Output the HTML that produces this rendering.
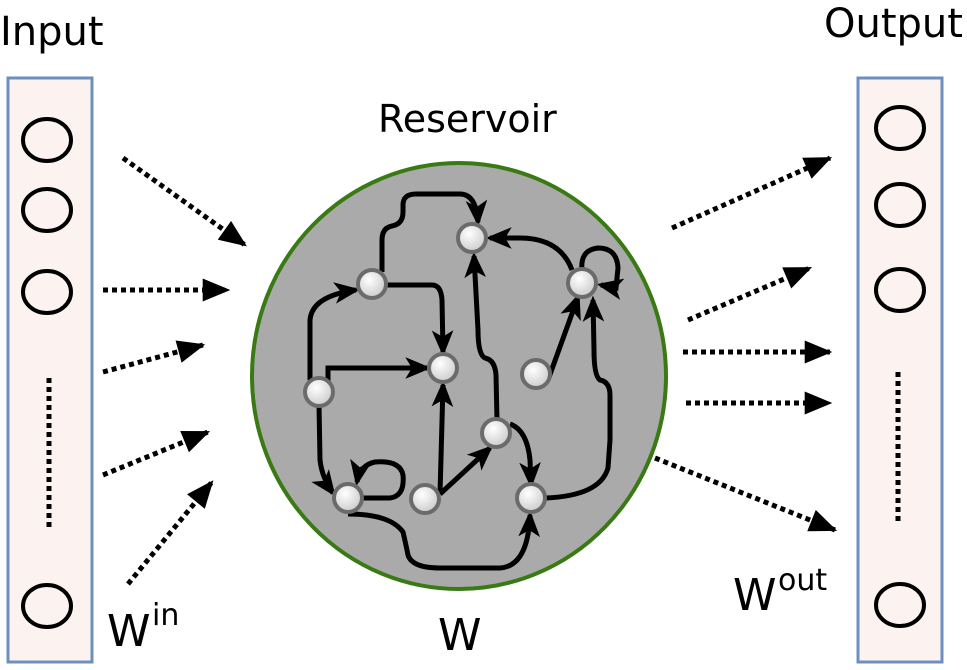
<!DOCTYPE html>
<html><head><meta charset="utf-8"><style>
html,body{margin:0;padding:0;background:#fff;}
svg{display:block;}
text{font-family:"DejaVu Sans","Liberation Sans",sans-serif;fill:#000;}
</style></head><body>
<svg width="967" height="670" viewBox="0 0 967 670" xmlns="http://www.w3.org/2000/svg">
<defs>
<marker id="a" viewBox="0 0 12 10" refX="10" refY="5" markerWidth="26" markerHeight="22" markerUnits="userSpaceOnUse" orient="auto"><path d="M0,0 L12,5 L0,10 L3,5 Z" fill="#000"/></marker>
<marker id="d" viewBox="0 0 12 10" refX="11" refY="5" markerWidth="28" markerHeight="23" markerUnits="userSpaceOnUse" orient="auto"><path d="M0,0 L12,5 L0,10 Z" fill="#000"/></marker>
<radialGradient id="ng" cx="40%" cy="35%" r="70%"><stop offset="0" stop-color="#fff"/><stop offset="1" stop-color="#c8c8c8"/></radialGradient>
</defs>
<text x="0" y="45" font-size="40">Input</text>
<text x="824" y="37" font-size="40">Output</text>
<text x="378" y="132" font-size="38">Reservoir</text>
<rect x="8" y="78" width="84" height="584" fill="#fcf3f1" stroke="#6d8fbf" stroke-width="3"/>
<rect x="858" y="78" width="84" height="584" fill="#fcf3f1" stroke="#6d8fbf" stroke-width="3"/>
<g fill="none" stroke="#000" stroke-width="4">
<ellipse cx="47" cy="140" rx="24" ry="21"/><ellipse cx="47" cy="210" rx="24" ry="21"/><ellipse cx="47" cy="292" rx="24" ry="21"/><ellipse cx="47" cy="606" rx="24" ry="21"/>
<ellipse cx="900" cy="128" rx="24" ry="21"/><ellipse cx="900" cy="205" rx="24" ry="21"/><ellipse cx="900" cy="290" rx="24" ry="21"/><ellipse cx="900" cy="605" rx="24" ry="21"/>
</g>
<g stroke="#000" stroke-width="5" stroke-dasharray="5 4" fill="none">
<line x1="49" y1="378" x2="49" y2="530"/><line x1="898" y1="372" x2="898" y2="525"/>
<line x1="123" y1="158" x2="245" y2="245" marker-end="url(#d)"/>
<line x1="103" y1="290" x2="228" y2="290" marker-end="url(#d)"/>
<line x1="103" y1="372" x2="203" y2="345" marker-end="url(#d)"/>
<line x1="103" y1="475" x2="208" y2="432" marker-end="url(#d)"/>
<line x1="128" y1="584" x2="212" y2="482" marker-end="url(#d)"/>
<line x1="672" y1="228" x2="830" y2="158" marker-end="url(#d)"/>
<line x1="688" y1="320" x2="810" y2="268" marker-end="url(#d)"/>
<line x1="683" y1="352" x2="830" y2="352" marker-end="url(#d)"/>
<line x1="686" y1="403" x2="830" y2="403" marker-end="url(#d)"/>
<line x1="655" y1="458" x2="835" y2="530" marker-end="url(#d)"/>
</g>
<ellipse cx="459" cy="376" rx="207" ry="213" fill="#aaaaaa" stroke="#3a7a14" stroke-width="4"/>
<g fill="none" stroke="#000" stroke-width="5">
<path d="M382,272 L382,240 Q382,228 392,226 Q403,224 403,212 L403,205 Q403,194 416,194 L460,194 Q476,194 478,222" marker-end="url(#a)"/>
<path d="M387,285 L432,285 Q441,285 442,300 L443,352" marker-end="url(#a)"/>
<path d="M310,380 L310,320 Q312,296 356,290" marker-end="url(#a)"/>
<path d="M328,382 L328,368 L427,368" marker-end="url(#a)"/>
<path d="M319,405 L320,460 Q322,478 333,493" marker-end="url(#a)"/>
<path d="M360,498 L390,498 Q405,496 403,475 Q400,460 375,462 Q360,465 357,482" marker-end="url(#a)"/>
<path d="M440,494 L443,385" marker-end="url(#a)"/>
<path d="M440,494 L490,448" marker-end="url(#a)"/>
<path d="M497,420 L496,375 Q495,360 485,358 Q478,355 478,330 L474,256" marker-end="url(#a)"/>
<path d="M510,424 Q527,430 530,460 L531,484" marker-end="url(#a)"/>
<path d="M348,514 Q390,514 403,532 Q406,545 408,555 Q412,568 440,568 L500,568 Q528,566 530,515" marker-end="url(#a)"/>
<path d="M545,498 Q600,496 608,468 L610,440 L610,395 Q610,382 600,380 Q594,376 594,350 L593,300" marker-end="url(#a)"/>
<path d="M548,380 L578,297" marker-end="url(#a)"/>
<path d="M572,270 Q560,238 520,238 L490,238" marker-end="url(#a)"/>
<path d="M582,270 Q580,250 598,248 Q617,248 618,268 L616,288 L601,285" marker-end="url(#a)"/>
</g>
<g fill="url(#ng)" stroke="#6b6b6b" stroke-width="4">
<circle cx="472" cy="238" r="14"/><circle cx="372" cy="284" r="14"/><circle cx="443" cy="368" r="14"/><circle cx="319" cy="392" r="14"/><circle cx="496" cy="433" r="14"/><circle cx="536" cy="374" r="14"/><circle cx="582" cy="283" r="14"/><circle cx="348" cy="498" r="14"/><circle cx="425" cy="499" r="14"/><circle cx="531" cy="498" r="14"/>
</g>
<text x="107" y="646" font-size="44">W</text><text x="152" y="625" font-size="30">in</text>
<text x="438" y="650" font-size="44">W</text>
<text x="733" y="610" font-size="44">W</text><text x="778" y="590" font-size="30">out</text>
</svg>
</body></html>
